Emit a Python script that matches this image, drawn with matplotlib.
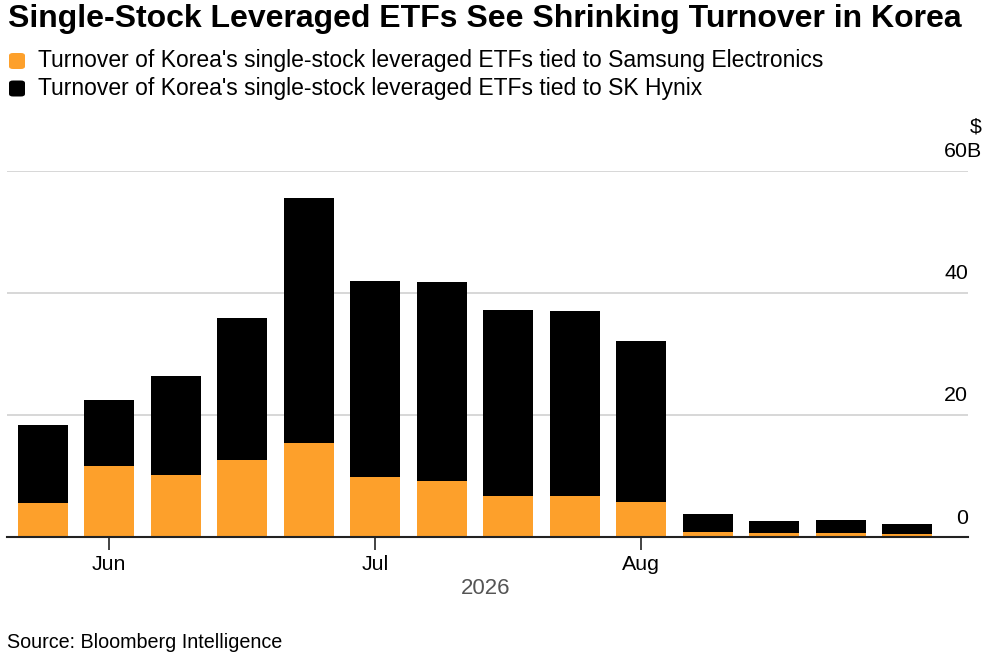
import matplotlib.pyplot as plt
from matplotlib.patches import FancyBboxPatch

# weekly turnover, $B
samsung = [5.7, 11.6, 10.2, 12.6, 15.4, 9.8, 9.2, 6.7, 6.7, 5.8, 0.9, 0.7, 0.7, 0.6]
total = [18.4, 22.5, 26.4, 35.9, 55.6, 42.0, 41.8, 37.2, 37.0, 32.2, 3.8, 2.7, 2.8, 2.1]
hynix = [t - s for t, s in zip(total, samsung)]

tick_pos = [1, 5, 9]
tick_labels = ["Jun", "Jul", "Aug"]
y_ticks = [0, 20, 40]
y_labels = ["0", "20", "40"]

ORANGE = "#FDA02B"
BLACK = "#000000"
FONT = ["Liberation Sans", "DejaVu Sans"]

fig = plt.figure(figsize=(9.89, 6.52), dpi=100)
ax = fig.add_axes([0.0071, 0.1759, 0.9717, 0.5618])

x = list(range(len(samsung)))
ax.bar(x, samsung, width=0.747, color=ORANGE, linewidth=0)
ax.bar(x, hynix, width=0.747, bottom=samsung, color=BLACK, linewidth=0)

ax.set_xlim(-0.537, 13.914)
ax.set_ylim(0, 60)
for s in ["top", "right", "left"]:
    ax.spines[s].set_visible(False)
ax.spines["bottom"].set_color("#222222")
ax.spines["bottom"].set_linewidth(1.5)
ax.set_yticks([])
for v in [20, 40, 60]:
    ax.axhline(v, color="#d4d4d4", linewidth=1.3, zorder=0)

ax.set_xticks(tick_pos)
ax.set_xticklabels(tick_labels, fontsize=15.4, family=FONT)
ax.tick_params(axis="x", length=9, width=1.2, color="#222222", pad=4)

for v, lab in zip(y_ticks, y_labels):
    ax.annotate(lab, xy=(1, v), xycoords=("axes fraction", "data"),
                xytext=(0, 7), textcoords="offset points",
                ha="right", va="bottom", fontsize=15.4, family=FONT)
# top label hangs past the gridlines, with the unit above it
ax.annotate("60B", xy=(1, 60), xycoords=("axes fraction", "data"),
            xytext=(10, 7), textcoords="offset points",
            ha="right", va="bottom", fontsize=15.4, family=FONT)
ax.annotate("$", xy=(1, 60), xycoords=("axes fraction", "data"),
            xytext=(10, 25), textcoords="offset points",
            ha="right", va="bottom", fontsize=15.4, family=FONT)

fig.text(486 / 989, 1 - 588 / 652, "2026", ha="center", va="center",
         fontsize=16, color="#555555", family=FONT)

fig.text(8 / 989, 1 - 19 / 652, "Single-Stock Leveraged ETFs See Shrinking Turnover in Korea",
         ha="left", va="center", fontsize=23, fontweight="bold", family=FONT)

legend_items = [
    (ORANGE, "Turnover of Korea's single-stock leveraged ETFs tied to Samsung Electronics", 61),
    (BLACK, "Turnover of Korea's single-stock leveraged ETFs tied to SK Hynix", 88.5),
]
for color, label, yc in legend_items:
    box = FancyBboxPatch((9 / 989, 1 - (yc + 8) / 652), 16 / 989, 16 / 652,
                         boxstyle="round,pad=0,rounding_size=0.004",
                         transform=fig.transFigure, facecolor=color, edgecolor="none")
    fig.patches.append(box)
    fig.text(38 / 989, 1 - yc / 652, label, ha="left", va="center",
             fontsize=16.5, family=FONT)

fig.text(7 / 989, 1 - 643 / 652, "Source: Bloomberg Intelligence", ha="left", va="center",
         fontsize=14.2, family=FONT)

fig.savefig("out.png", dpi=100)
